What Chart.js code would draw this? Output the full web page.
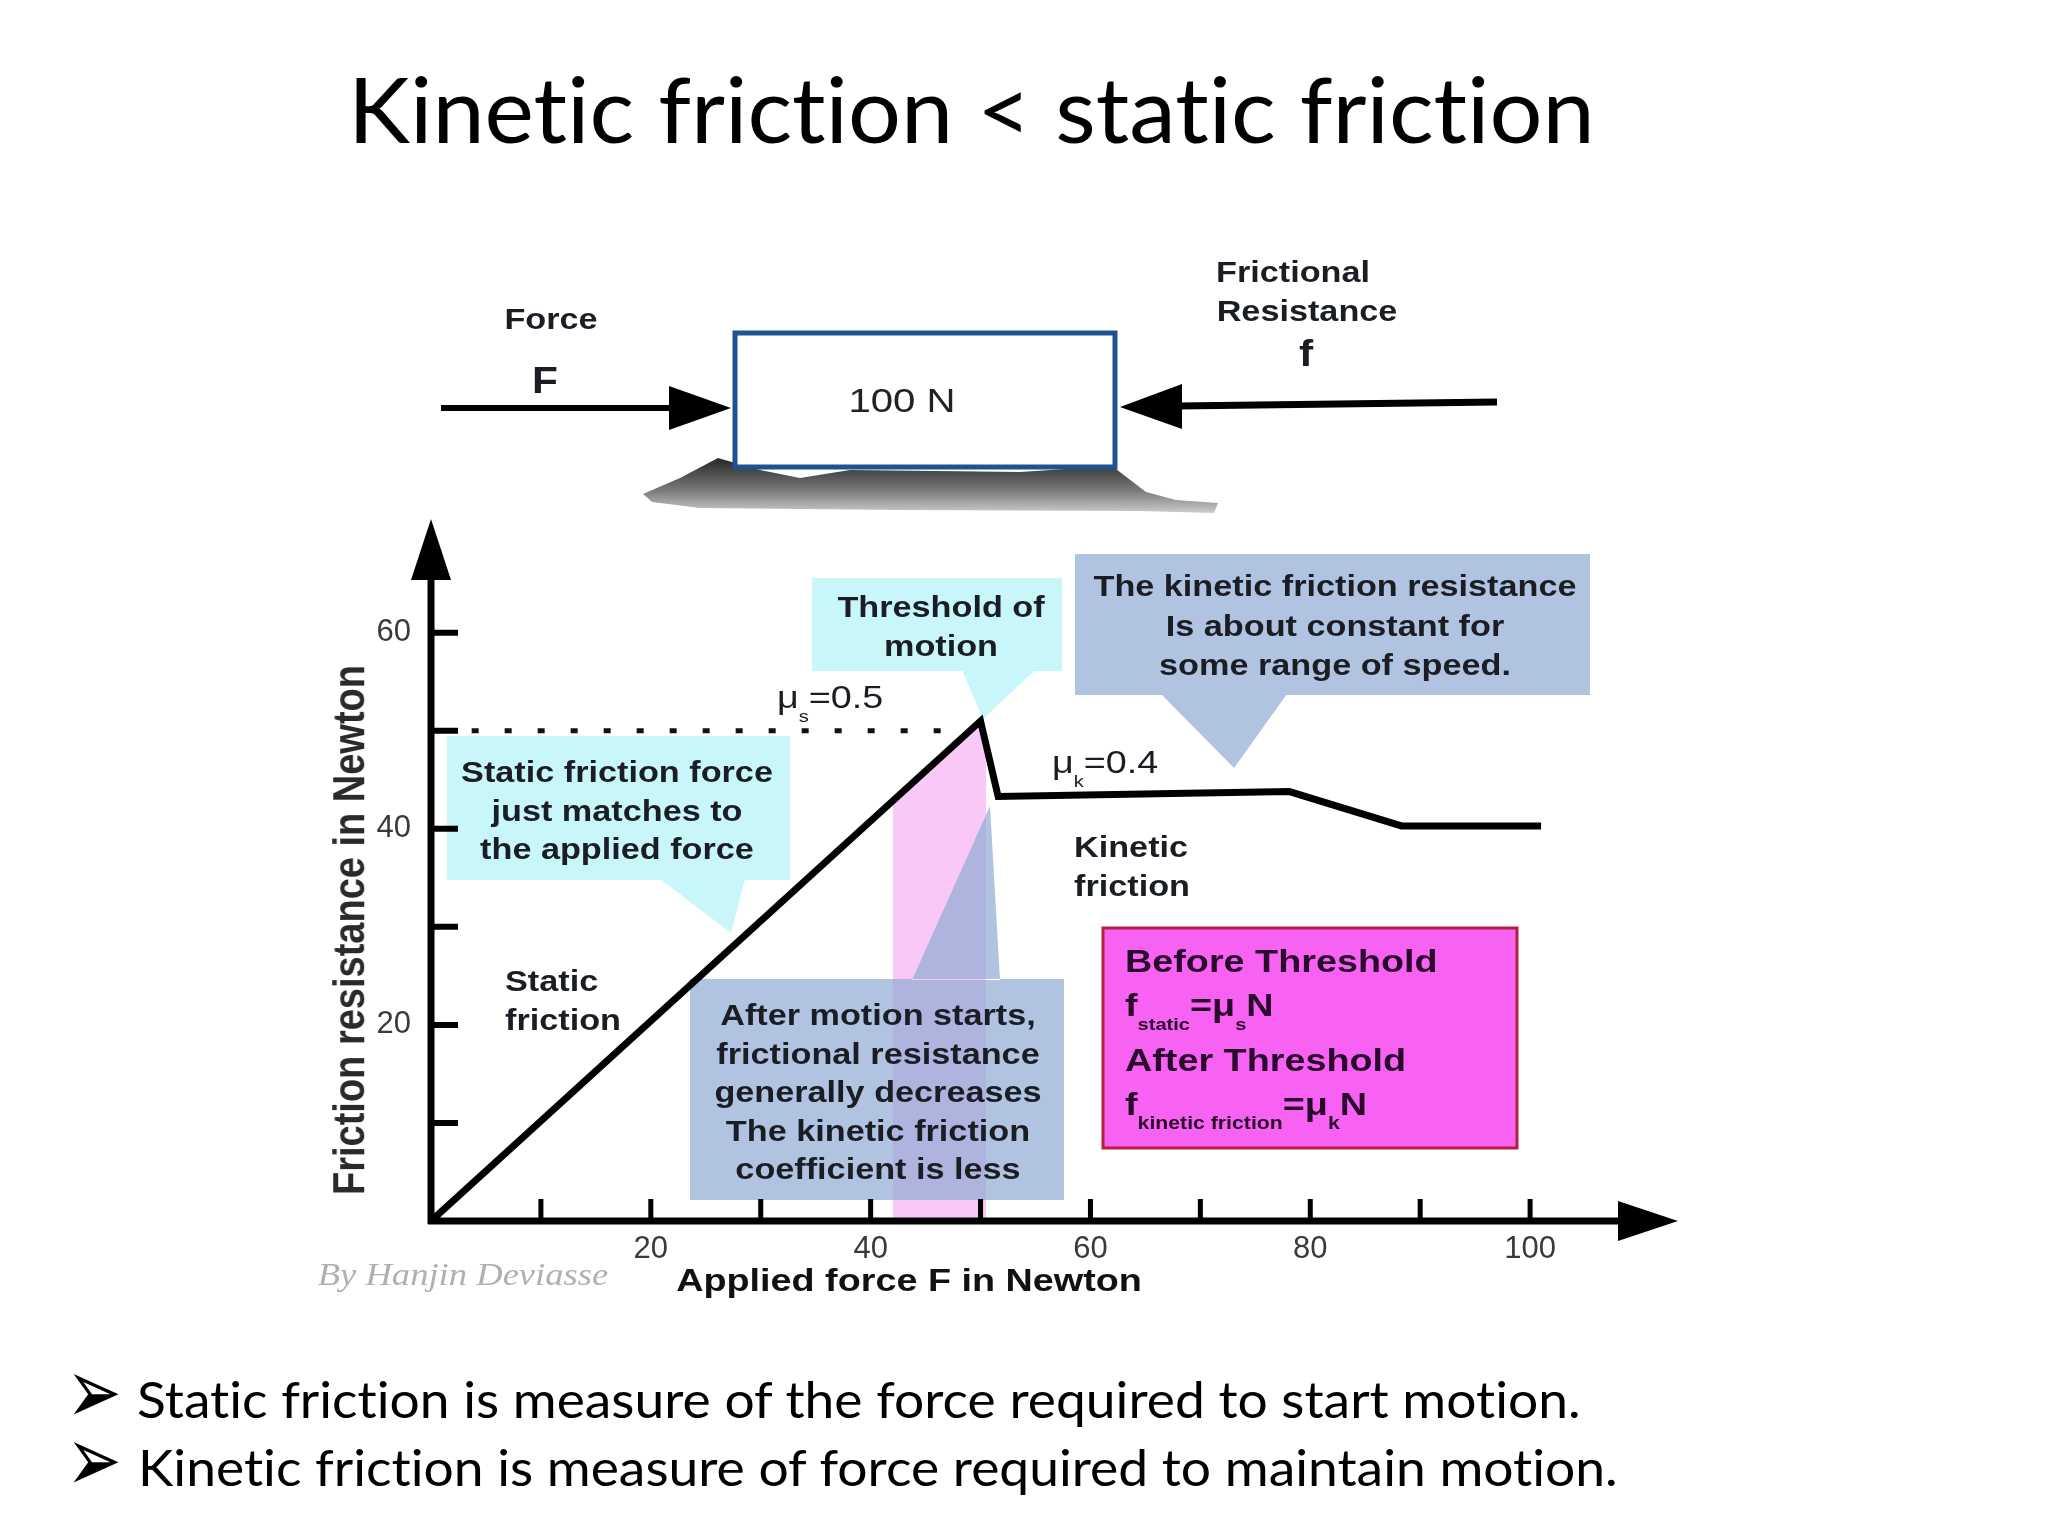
<!DOCTYPE html>
<html lang="en">
<head>
  <meta charset="UTF-8" />
  <title>Kinetic friction &lt; static friction</title>
  <script src="https://cdn.jsdelivr.net/npm/chart.js"></script>
  <style>
    html, body { margin: 0; padding: 0; background: #fff; overflow: hidden; }
    #page { position: relative; width: 2048px; height: 1536px; overflow: hidden; }
    #frictionChart { position: absolute; left: 0; top: 0; }
    .t { position: absolute; white-space: nowrap; line-height: 1; color: #1a1d24;
         font-family: "Liberation Sans", Arial, sans-serif; }
    .c { transform: translate(-50%, -50%) scaleX(1.18); text-align: center; }
    .l { transform-origin: 0 50%; transform: translateY(-50%) scaleX(1.18); }
    .b { font-weight: bold; font-size: 29px; }
    .call { line-height: 38.5px; }
    .slide { font-family: Lato, "Open Sans", sans-serif; color: #000; transform-origin: 0 50%;
             transform: translateY(-50%); font-variant-ligatures: none; }
    .sb { position: relative; top: 14px; font-size: 17px; }
    .mag { font-weight: bold; font-size: 32px; color: #2a0a2c; }
    .bullet { font-family: "DejaVu Sans"; font-size: 92px; color: #000;
              transform: translate(-50%, -50%) scaleX(0.72); }
  </style>
</head>
<body>
<div id="page">
  <canvas id="frictionChart" width="2048" height="1536"></canvas>

  <!-- slide title -->
  <div class="t slide" data-w="1247" style="left:348px; top:108px; font-size:92px;">Kinetic friction &lt; static friction</div>

  <!-- block diagram labels -->
  <div class="t c b" style="left:551px; top:319px;">Force</div>
  <div class="t c b" style="left:545px; top:381px; font-size:36px;">F</div>
  <div class="t c" style="left:902px; top:400px; font-size:34px; color:#222;">100 N</div>
  <div class="t c b" style="left:1293px; top:272px;">Frictional</div>
  <div class="t c b" style="left:1307px; top:311px;">Resistance</div>
  <div class="t c b" style="left:1306px; top:354px; font-size:36px;">f</div>

  <!-- callout texts -->
  <div class="t c b call" style="left:941px; top:626px;">Threshold of<br>motion</div>
  <div class="t c b call" style="left:1335px; top:626px; line-height:39.5px;">The kinetic friction resistance<br>Is about constant for<br>some range of speed.</div>
  <div class="t c b call" style="left:617px; top:811px;">Static friction force<br>just matches to<br>the applied force</div>
  <div class="t c b call" style="left:878px; top:1092px;">After motion starts,<br>frictional resistance<br>generally decreases<br>The kinetic friction<br>coefficient is less</div>

  <!-- curve labels -->
  <div class="t l" style="left:777px; top:697px; font-size:32px;">μ<span class="sb">s</span>=0.5</div>
  <div class="t l" style="left:1052px; top:762px; font-size:32px;">μ<span class="sb">k</span>=0.4</div>
  <div class="t l b call" style="left:1074px; top:866px;">Kinetic<br>friction</div>
  <div class="t l b call" style="left:505px; top:1000px;">Static<br>friction</div>

  <!-- formula box -->
  <div class="t l mag" style="left:1125px; top:961px;">Before Threshold</div>
  <div class="t l mag" style="left:1125px; top:1005px;">f<span class="sb">static</span>=μ<span class="sb">s</span>N</div>
  <div class="t l mag" style="left:1125px; top:1060px;">After Threshold</div>
  <div class="t l mag" style="left:1125px; top:1104px;">f<span class="sb" style="font-size:18px;">kinetic friction</span>=μ<span class="sb" style="font-size:18px;">k</span>N</div>

  <!-- axis titles and credit -->
  <div class="t c" style="left:909px; top:1280px; font-weight:bold; font-size:32px; color:#111;">Applied force F in Newton</div>
  <div class="t" style="left:349px; top:930px; font-weight:bold; font-size:38px; color:#2a2a2a; transform:translate(-50%,-50%) rotate(-90deg) scaleY(1.18);">Friction resistance in Newton</div>
  <div class="t c" style="left:463px; top:1274px; font-family:'Liberation Serif',serif; font-style:italic; font-size:31px; color:#b0b0b0;">By Hanjin Deviasse</div>

  <!-- bullets -->
  <div class="t bullet" style="left:94px; top:1392px;">➢</div>
  <div class="t slide" data-w="1444" style="left:137px; top:1398px; font-size:51px;">Static friction is measure of the force required to start motion.</div>
  <div class="t bullet" style="left:94px; top:1460px;">➢</div>
  <div class="t slide" data-w="1480" style="left:138px; top:1466px; font-size:51px;">Kinetic friction is measure of force required to maintain motion.</div>
</div>

<script>
  // Friction resistance (N) against applied force (N).
  const frictionX = [0, 50, 51.6, 78.1, 88.3, 101];
  const frictionY = [0, 51, 43.3, 43.8, 40.3, 40.3];

  // Dotted limit of static friction (mu_s * N).
  const staticLimitX = [3.7, 47];
  const staticLimitY = [50, 50];

  // Shaded transition band just before the threshold.
  const transitionX = [42, 50, 50.5];
  const transitionY = [42.8, 51, 48.6];

  // Tick marks and which of them carry a label.
  const xTicks = [10, 20, 30, 40, 50, 60, 70, 80, 90, 100];
  const xTickLabels = [20, 40, 60, 80, 100];
  const yTicks = [10, 20, 30, 40, 50, 60];
  const yTickLabels = [20, 40, 60];

  const pts = (xs, ys) => xs.map((x, i) => ({ x: x, y: ys[i] }));

  // fill a list of shapes (rects and triangles) as one path so overlaps are not doubled
  function fillShapes(ctx, color, rects, tris) {
    ctx.beginPath();
    rects.forEach(r => ctx.rect(r[0], r[1], r[2], r[3]));
    tris.forEach(t => {
      ctx.moveTo(t[0], t[1]);
      ctx.lineTo(t[2], t[3]);
      ctx.lineTo(t[4], t[5]);
      ctx.closePath();
    });
    ctx.fillStyle = color;
    ctx.fill();
  }

  function drawCallouts(ctx) {
    ctx.save();
    // light cyan callouts
    fillShapes(ctx, 'rgba(186, 244, 248, 0.8)',
      [[812, 578, 250, 93], [447, 736, 343, 144]],
      [[962, 670, 1035, 670, 983, 719], [660, 879, 745, 879, 731, 933]]);
    // steel blue callouts
    fillShapes(ctx, 'rgba(146, 172, 214, 0.72)',
      [[1075, 554, 515, 141]],
      [[1161, 694, 1287, 694, 1234, 768]]);
    fillShapes(ctx, 'rgba(146, 172, 214, 0.72)',
      [[690, 979, 374, 221]],
      [[912, 980, 1000, 980, 990, 806]]);
    ctx.restore();
  }

  function drawBlock(ctx) {
    ctx.save();
    // ground shadow
    const g = ctx.createLinearGradient(0, 462, 0, 514);
    g.addColorStop(0, '#303030');
    g.addColorStop(0.55, '#7a7a7a');
    g.addColorStop(1, '#cfcfcf');
    ctx.fillStyle = g;
    ctx.beginPath();
    ctx.moveTo(643, 494);
    ctx.lineTo(680, 478);
    ctx.lineTo(718, 458);
    ctx.lineTo(760, 470);
    ctx.lineTo(800, 478);
    ctx.lineTo(850, 470);
    ctx.lineTo(1020, 472);
    ctx.lineTo(1112, 466);
    ctx.lineTo(1146, 492);
    ctx.lineTo(1176, 500);
    ctx.lineTo(1218, 503);
    ctx.lineTo(1214, 513);
    ctx.lineTo(1140, 511);
    ctx.lineTo(900, 510);
    ctx.lineTo(700, 508);
    ctx.lineTo(652, 502);
    ctx.closePath();
    ctx.fill();

    // the block
    ctx.fillStyle = '#fff';
    ctx.fillRect(735, 333, 380, 134);
    ctx.strokeStyle = '#1f5290';
    ctx.lineWidth = 5;
    ctx.strokeRect(735, 333, 380, 134);

    // applied force arrow
    ctx.fillStyle = '#000';
    ctx.strokeStyle = '#000';
    ctx.lineWidth = 6;
    ctx.beginPath();
    ctx.moveTo(441, 408);
    ctx.lineTo(675, 408);
    ctx.stroke();
    ctx.beginPath();
    ctx.moveTo(669, 386);
    ctx.lineTo(731, 408);
    ctx.lineTo(669, 430);
    ctx.closePath();
    ctx.fill();

    // frictional resistance arrow
    ctx.lineWidth = 7;
    ctx.beginPath();
    ctx.moveTo(1497, 402);
    ctx.lineTo(1178, 406);
    ctx.stroke();
    ctx.beginPath();
    ctx.moveTo(1182, 384);
    ctx.lineTo(1120, 407);
    ctx.lineTo(1182, 429);
    ctx.closePath();
    ctx.fill();
    ctx.restore();
  }

  const diagramPlugin = {
    id: 'frictionDiagram',
    beforeDraw(chart) {
      drawBlock(chart.ctx);
    },
    afterDatasetDraw(chart, args) {
      // callouts sit above the shaded band but under the curve
      if (args.index === 2) drawCallouts(chart.ctx);
    },
    afterDraw(chart) {
      const ctx = chart.ctx;
      const xs = chart.scales.x;
      const ys = chart.scales.y;
      const x0 = xs.getPixelForValue(0);
      const y0 = ys.getPixelForValue(0);
      const top = chart.chartArea.top;
      const right = chart.chartArea.right;
      ctx.save();
      ctx.strokeStyle = '#000';
      ctx.fillStyle = '#000';

      // axes with arrow heads
      ctx.lineWidth = 7;
      ctx.beginPath();
      ctx.moveTo(x0, y0 + 3);
      ctx.lineTo(x0, top + 58);
      ctx.moveTo(x0 - 3, y0);
      ctx.lineTo(right - 20, y0);
      ctx.stroke();
      ctx.beginPath();
      ctx.moveTo(x0 - 20, top + 60);
      ctx.lineTo(x0, top - 1);
      ctx.lineTo(x0 + 20, top + 60);
      ctx.closePath();
      ctx.fill();
      ctx.beginPath();
      ctx.moveTo(right - 22, y0 - 20);
      ctx.lineTo(right + 38, y0);
      ctx.lineTo(right - 22, y0 + 20);
      ctx.closePath();
      ctx.fill();

      // tick marks drawn inward
      ctx.lineWidth = 6;
      ctx.beginPath();
      yTicks.forEach(v => {
        const py = ys.getPixelForValue(v);
        ctx.moveTo(x0, py);
        ctx.lineTo(x0 + 27, py);
      });
      ctx.stroke();
      ctx.lineWidth = 5;
      ctx.beginPath();
      xTicks.forEach(v => {
        const px = xs.getPixelForValue(v);
        ctx.moveTo(px, y0);
        ctx.lineTo(px, y0 - 22);
      });
      ctx.stroke();

      // formula box
      ctx.fillStyle = '#f862f3';
      ctx.fillRect(1103, 928, 414, 220);
      ctx.strokeStyle = '#b3203c';
      ctx.lineWidth = 3;
      ctx.strokeRect(1103, 928, 414, 220);
      ctx.restore();
    }
  };

  const ctx = document.getElementById('frictionChart').getContext('2d');
  const frictionChart = new Chart(ctx, {
    type: 'scatter',
    data: {
      datasets: [
        {
          label: 'Friction resistance',
          data: pts(frictionX, frictionY),
          showLine: true,
          borderColor: '#000',
          borderWidth: 7,
          borderJoinStyle: 'miter',
          pointRadius: 0,
          fill: false
        },
        {
          label: 'Static limit',
          data: pts(staticLimitX, staticLimitY),
          showLine: true,
          borderColor: '#111',
          borderWidth: 5,
          borderDash: [7, 26],
          borderCapStyle: 'butt',
          pointRadius: 0,
          fill: false
        },
        {
          label: 'Transition',
          data: pts(transitionX, transitionY),
          showLine: true,
          borderColor: 'rgba(0,0,0,0)',
          borderWidth: 1,
          backgroundColor: '#fac8f6',
          pointRadius: 0,
          fill: 'origin'
        }
      ]
    },
    options: {
      responsive: false,
      animation: false,
      layout: { padding: { left: 331, right: 408, top: 520, bottom: 235 } },
      plugins: {
        legend: { display: false },
        tooltip: { enabled: false }
      },
      scales: {
        x: {
          type: 'linear',
          min: 0,
          max: 110,
          grid: { display: false, drawTicks: false },
          border: { display: false },
          afterBuildTicks: s => { s.ticks = xTicks.map(v => ({ value: v })); },
          afterFit: s => { s.height = 80; },
          ticks: {
            autoSkip: false,
            maxRotation: 0,
            padding: 10,
            color: '#3a3a3a',
            font: { family: 'Liberation Sans', size: 31 },
            callback: v => xTickLabels.includes(v) ? String(v) : ''
          }
        },
        y: {
          type: 'linear',
          min: 0,
          max: 71.5,
          grid: { display: false, drawTicks: false },
          border: { display: false },
          afterBuildTicks: s => { s.ticks = yTicks.map(v => ({ value: v })); },
          afterFit: s => { s.width = 100; },
          ticks: {
            autoSkip: false,
            padding: 20,
            color: '#3a3a3a',
            font: { family: 'Liberation Sans', size: 31 },
            callback: v => yTickLabels.includes(v) ? String(v) : ''
          }
        }
      }
    },
    plugins: [diagramPlugin]
  });

  // stretch slide text to the widths it has in the original
  function fitSlideText() {
    document.querySelectorAll('[data-w]').forEach(el => {
      const k = Number(el.dataset.w) / el.offsetWidth;
      el.style.transform = 'translateY(-50%) scaleX(' + k + ')';
    });
  }
  fitSlideText();
  if (document.fonts) document.fonts.ready.then(fitSlideText);
</script>
</body>
</html>
